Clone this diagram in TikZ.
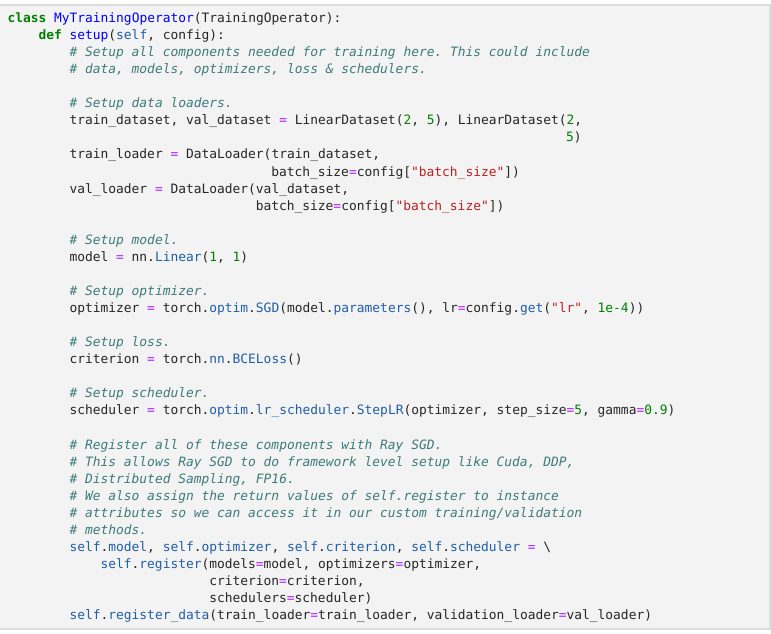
\documentclass[tikz,border=0pt]{standalone}
\usepackage{fontspec}
\setmonofont{DejaVu Sans Mono}
\definecolor{bg}{HTML}{F3F3F3}
\definecolor{bd}{HTML}{DDDDDD}
\definecolor{kw}{HTML}{008000}
\definecolor{nm}{HTML}{0000FF}
\definecolor{cm}{HTML}{3D7B7B}
\definecolor{st}{HTML}{BA2121}
\definecolor{op}{HTML}{AA22FF}
\definecolor{at}{HTML}{1F5EA8}
\newcommand\K[1]{\textcolor{kw}{\bfseries #1}}
\newcommand\N[1]{\textcolor{nm}{#1}}
\newcommand\C[1]{\textcolor{cm}{\itshape #1}}
\newcommand\D[1]{\textcolor{kw}{#1}}
\newcommand\Sq[1]{\textcolor{st}{#1}}
\newcommand\E{\textcolor{op}{=}}
\newcommand\A[1]{\textcolor{at}{#1}}
\begin{document}
\begin{tikzpicture}[x=1pt,y=-1pt,
  ln/.style={anchor=base west,inner sep=0pt,font=\ttfamily\fontsize{12.9}{17}\selectfont,text=black!85}]
\useasboundingbox (0,0) rectangle (771,634);
\fill[white] (0,0) rectangle (771,634);
\filldraw[fill=bg,draw=bd,line width=1.2pt] (-2,5) rectangle (770,629);
\def\cw{7.76}
\def\ln#1#2#3{\node[ln] (l#1) at ({7.3+#2*\cw},{22.5+(#1-1)*17.06}) {#3};}
\ln{1}{0}{\K{class} \N{MyTrainingOperator}(TrainingOperator):}
\ln{2}{4}{\K{def} \N{setup}(\A{self}, config):}
\ln{3}{8}{\C{\# Setup all components needed for training here. This could include}}
\ln{4}{8}{\C{\# data, models, optimizers, loss \& schedulers.}}
\ln{6}{8}{\C{\# Setup data loaders.}}
\ln{7}{8}{train\_dataset, val\_dataset \E{} LinearDataset(\D{2}, \D{5}), LinearDataset(\D{2},}
\ln{8}{72}{\D{5})}
\ln{9}{8}{train\_loader \E{} DataLoader(train\_dataset,}
\ln{10}{34}{batch\_size\E{}config[\Sq{"batch\_size"}])}
\ln{11}{8}{val\_loader \E{} DataLoader(val\_dataset,}
\ln{12}{32}{batch\_size\E{}config[\Sq{"batch\_size"}])}
\ln{14}{8}{\C{\# Setup model.}}
\ln{15}{8}{model \E{} nn.\A{Linear}(\D{1}, \D{1})}
\ln{17}{8}{\C{\# Setup optimizer.}}
\ln{18}{8}{optimizer \E{} torch.\A{optim}.\A{SGD}(model.\A{parameters}(), lr\E{}config.\A{get}(\Sq{"lr"}, \D{1e-4}))}
\ln{20}{8}{\C{\# Setup loss.}}
\ln{21}{8}{criterion \E{} torch.\A{nn}.\A{BCELoss}()}
\ln{23}{8}{\C{\# Setup scheduler.}}
\ln{24}{8}{scheduler \E{} torch.\A{optim}.\A{lr\_scheduler}.\A{StepLR}(optimizer, step\_size\E{}\D{5}, gamma\E{}\D{0.9})}
\ln{26}{8}{\C{\# Register all of these components with Ray SGD.}}
\ln{27}{8}{\C{\# This allows Ray SGD to do framework level setup like Cuda, DDP,}}
\ln{28}{8}{\C{\# Distributed Sampling, FP16.}}
\ln{29}{8}{\C{\# We also assign the return values of self.register to instance}}
\ln{30}{8}{\C{\# attributes so we can access it in our custom training/validation}}
\ln{31}{8}{\C{\# methods.}}
\ln{32}{8}{\A{self}.\A{model}, \A{self}.\A{optimizer}, \A{self}.\A{criterion}, \A{self}.\A{scheduler} \E{} \textbackslash}
\ln{33}{12}{\A{self}.\A{register}(models\E{}model, optimizers\E{}optimizer,}
\ln{34}{26}{criterion\E{}criterion,}
\ln{35}{26}{schedulers\E{}scheduler)}
\ln{36}{8}{\A{self}.\A{register\_data}(train\_loader\E{}train\_loader, validation\_loader\E{}val\_loader)}
\end{tikzpicture}
\end{document}
